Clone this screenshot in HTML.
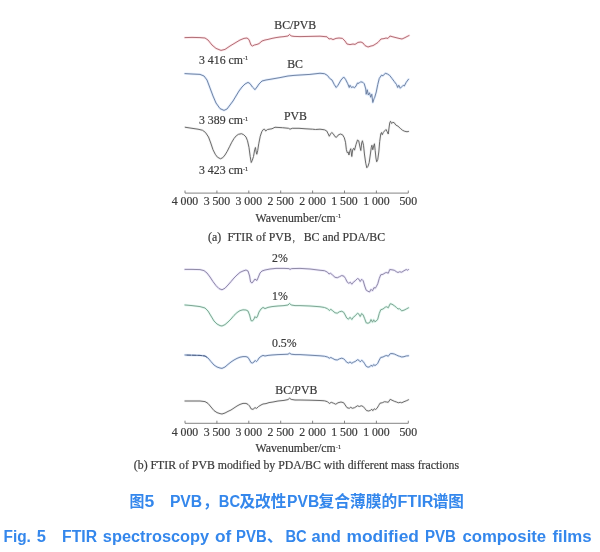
<!DOCTYPE html>
<html lang="zh">
<head>
<meta charset="utf-8">
<title>Fig. 5</title>
<style>
html,body{margin:0;padding:0;background:#fff;}
body{width:600px;height:552px;position:relative;overflow:hidden;}
.t, .t text{font-family:"Liberation Serif","Noto Serif CJK SC",serif;font-size:11.8px;fill:#3a3a3a;stroke:#3a3a3a;stroke-width:0.2px;}
.cap text{font-family:"Liberation Sans","Noto Sans CJK SC",sans-serif;font-weight:bold;font-size:15.6px;fill:#3487ec;}
</style>
</head>
<body>
<svg width="600" height="552" viewBox="0 0 600 552" style="position:absolute;left:0;top:0">
<g fill="none" stroke-linejoin="round" stroke-linecap="round">
<path d="M185,37.6 L192,37.4 L200,37.6 L205,38 L208,40 L212,45 L216,48.4 L221,50.4 L225,49.4 L230,46 L235,43 L240,40 L244,38.4 L247,38 L249,39.6 L251,45 L252.4,46 L254.4,45 L257,44.4 L259,43.6 L262,41 L265,40 L268,39.4 L272,38.4 L276,37.6 L280,37 L284,36.6 L288,36 L289.6,34.4 L291.2,36 L294,36.4 L300,36.6 L310,36.4 L320,36.2 L327,36.8 L329,39 L331,38.6 L333,39.6 L336,38.4 L339,38 L342.4,38.4 L345,41 L347,44 L350,44.6 L353,44 L355,44.4 L358,42.4 L361,42 L363,43 L365,45.6 L368,47 L371,46 L373,45.6 L375,44.4 L378,42.4 L381,39 L384,38.6 L386,38 L388,38.4 L390,36 L392,36.6 L395,37.4 L399,38.4 L402,39 L405,37.6 L408,36 L409,35.6" stroke="#f0506a" stroke-width="2.4" stroke-opacity="0.16"/>
<path d="M185,37.6 L192,37.4 L200,37.6 L205,38 L208,40 L212,45 L216,48.4 L221,50.4 L225,49.4 L230,46 L235,43 L240,40 L244,38.4 L247,38 L249,39.6 L251,45 L252.4,46 L254.4,45 L257,44.4 L259,43.6 L262,41 L265,40 L268,39.4 L272,38.4 L276,37.6 L280,37 L284,36.6 L288,36 L289.6,34.4 L291.2,36 L294,36.4 L300,36.6 L310,36.4 L320,36.2 L327,36.8 L329,39 L331,38.6 L333,39.6 L336,38.4 L339,38 L342.4,38.4 L345,41 L347,44 L350,44.6 L353,44 L355,44.4 L358,42.4 L361,42 L363,43 L365,45.6 L368,47 L371,46 L373,45.6 L375,44.4 L378,42.4 L381,39 L384,38.6 L386,38 L388,38.4 L390,36 L392,36.6 L395,37.4 L399,38.4 L402,39 L405,37.6 L408,36 L409,35.6" stroke="#a8626a" stroke-width="0.9"/>
<path d="M185,73.6 L192,74 L200,74.4 L204,76 L207,80 L210,88 L213,96 L216,103 L220,108.6 L224,110.4 L227,109 L230,105 L233,101 L236,96 L239,91 L242,87 L245,84 L248,82.4 L250,83.6 L252.4,87 L255,89.6 L257,87 L259,84 L262,81 L266,80 L272,79 L280,77.6 L288,76 L294,75.4 L300,75 L310,74.4 L320,73.25 L324.5,73.7 L327.5,75.5 L329.75,78.5 L332,80 L334.25,84.5 L336.2,87.5 L338,85.25 L341,80 L343.7,77 L345.5,79.25 L347.75,83.75 L349.25,87.5 L350,85.25 L351.5,87.5 L353,86.75 L354.5,87.8 L356,86 L357.5,83 L359,83.3 L360.5,81.8 L362.75,82.25 L364.25,83.75 L365.75,89 L366.2,94.25 L367.25,89.75 L368.3,95 L369.5,92.75 L370.7,97.25 L371.75,94.25 L372.8,102.5 L374,98.75 L374.75,97.25 L376.25,92 L377.75,84.5 L379.25,78.5 L381.5,75.2 L383,75.8 L385.25,73.25 L387.5,74 L389.75,75.5 L392,78.5 L394.25,81.5 L396.5,84.5 L397.7,87.5 L398.75,85.25 L400.25,88.25 L401.75,86.75 L403.25,85.25 L404.3,86 L406.25,82.25 L408.5,79.25" stroke="#3a80f0" stroke-width="2.4" stroke-opacity="0.16"/>
<path d="M185,73.6 L192,74 L200,74.4 L204,76 L207,80 L210,88 L213,96 L216,103 L220,108.6 L224,110.4 L227,109 L230,105 L233,101 L236,96 L239,91 L242,87 L245,84 L248,82.4 L250,83.6 L252.4,87 L255,89.6 L257,87 L259,84 L262,81 L266,80 L272,79 L280,77.6 L288,76 L294,75.4 L300,75 L310,74.4 L320,73.25 L324.5,73.7 L327.5,75.5 L329.75,78.5 L332,80 L334.25,84.5 L336.2,87.5 L338,85.25 L341,80 L343.7,77 L345.5,79.25 L347.75,83.75 L349.25,87.5 L350,85.25 L351.5,87.5 L353,86.75 L354.5,87.8 L356,86 L357.5,83 L359,83.3 L360.5,81.8 L362.75,82.25 L364.25,83.75 L365.75,89 L366.2,94.25 L367.25,89.75 L368.3,95 L369.5,92.75 L370.7,97.25 L371.75,94.25 L372.8,102.5 L374,98.75 L374.75,97.25 L376.25,92 L377.75,84.5 L379.25,78.5 L381.5,75.2 L383,75.8 L385.25,73.25 L387.5,74 L389.75,75.5 L392,78.5 L394.25,81.5 L396.5,84.5 L397.7,87.5 L398.75,85.25 L400.25,88.25 L401.75,86.75 L403.25,85.25 L404.3,86 L406.25,82.25 L408.5,79.25" stroke="#66799a" stroke-width="0.9"/>
<path d="M185.25,127.25 L192,128.3 L198,129.2 L202.5,130.25 L205.5,132.5 L208.5,137 L210.75,143 L213,149.75 L215.25,154.25 L217.5,157.25 L220.5,158.75 L222.75,157.7 L225,155 L227.25,151.25 L229.5,146.75 L231.75,142.25 L234,138.5 L236.25,135.8 L238.5,134.3 L241.5,133.7 L243.75,134.75 L246,137 L247.5,140.75 L249,147.5 L250.2,156.5 L251.25,162.5 L252.3,160.25 L253.5,156.5 L254.7,149.75 L255.45,147.5 L256.2,152 L256.8,154.25 L257.7,150.5 L258.75,143.75 L260.25,136.25 L261.75,131.75 L263.25,129.5 L264.5,129.2 L265.7,131 L267.5,129.5 L272,128.75 L275,127.25 L282.5,127.7 L288.5,128.3 L290,129.2 L292.25,128.3 L299,128.3 L305,128.75 L312.5,129.2 L315.5,129.5 L320,129.2 L324.5,129.8 L326.75,131 L328.25,134 L329.3,136.25 L330.5,134 L331.7,132.5 L333.2,133.7 L335,136.7 L336.5,137.3 L338,135.2 L340.25,134 L342.5,134.75 L344.3,137.75 L345.5,142.25 L346.4,149.75 L347.3,152.75 L348.2,152 L348.95,155 L350,150.5 L350.75,148.7 L351.8,156.5 L352.7,149.75 L353.75,148.25 L354.5,150.2 L356,144.5 L357.5,140 L358.7,140.75 L359.75,146 L360.8,150.5 L361.7,143 L362.45,140.75 L363.5,145.25 L364.55,155 L365.75,163.25 L366.8,167.75 L368,166.25 L369.2,162.5 L370.25,155 L371.3,147.5 L371.9,145.25 L372.8,149.75 L373.7,146 L374.45,143.75 L375.2,150.5 L375.95,158 L376.7,161.75 L377.75,159.5 L378.8,152 L379.7,141.5 L380.75,134 L381.5,132.5 L382.25,134.75 L383.3,132.5 L384.5,131 L386,129.5 L387.2,131.75 L388.25,134 L389,128 L389.75,122.75 L390.5,121.25 L391.7,123.5 L392.75,122.3 L394.25,122.75 L395.75,125 L398,126.2 L400.25,128.3 L402.5,130.25 L404.75,131.3 L407,131.75 L408.5,131.45" stroke="#999999" stroke-width="2.4" stroke-opacity="0.16"/>
<path d="M185.25,127.25 L192,128.3 L198,129.2 L202.5,130.25 L205.5,132.5 L208.5,137 L210.75,143 L213,149.75 L215.25,154.25 L217.5,157.25 L220.5,158.75 L222.75,157.7 L225,155 L227.25,151.25 L229.5,146.75 L231.75,142.25 L234,138.5 L236.25,135.8 L238.5,134.3 L241.5,133.7 L243.75,134.75 L246,137 L247.5,140.75 L249,147.5 L250.2,156.5 L251.25,162.5 L252.3,160.25 L253.5,156.5 L254.7,149.75 L255.45,147.5 L256.2,152 L256.8,154.25 L257.7,150.5 L258.75,143.75 L260.25,136.25 L261.75,131.75 L263.25,129.5 L264.5,129.2 L265.7,131 L267.5,129.5 L272,128.75 L275,127.25 L282.5,127.7 L288.5,128.3 L290,129.2 L292.25,128.3 L299,128.3 L305,128.75 L312.5,129.2 L315.5,129.5 L320,129.2 L324.5,129.8 L326.75,131 L328.25,134 L329.3,136.25 L330.5,134 L331.7,132.5 L333.2,133.7 L335,136.7 L336.5,137.3 L338,135.2 L340.25,134 L342.5,134.75 L344.3,137.75 L345.5,142.25 L346.4,149.75 L347.3,152.75 L348.2,152 L348.95,155 L350,150.5 L350.75,148.7 L351.8,156.5 L352.7,149.75 L353.75,148.25 L354.5,150.2 L356,144.5 L357.5,140 L358.7,140.75 L359.75,146 L360.8,150.5 L361.7,143 L362.45,140.75 L363.5,145.25 L364.55,155 L365.75,163.25 L366.8,167.75 L368,166.25 L369.2,162.5 L370.25,155 L371.3,147.5 L371.9,145.25 L372.8,149.75 L373.7,146 L374.45,143.75 L375.2,150.5 L375.95,158 L376.7,161.75 L377.75,159.5 L378.8,152 L379.7,141.5 L380.75,134 L381.5,132.5 L382.25,134.75 L383.3,132.5 L384.5,131 L386,129.5 L387.2,131.75 L388.25,134 L389,128 L389.75,122.75 L390.5,121.25 L391.7,123.5 L392.75,122.3 L394.25,122.75 L395.75,125 L398,126.2 L400.25,128.3 L402.5,130.25 L404.75,131.3 L407,131.75 L408.5,131.45" stroke="#5c5c5c" stroke-width="0.9"/>
<path d="M185,269.4 L192,269.4 L200,269.6 L204,270.6 L207,273 L210,277 L213,281.6 L216,285.6 L219,288.6 L222,289.8 L225,288.2 L228,285 L231,281.6 L234,278 L237,275 L240,272.4 L243,271 L246,270 L248,271 L249.6,276 L250.6,282 L252,283 L253.6,281 L255,279 L256,280 L257,280.4 L258.4,277 L260,273 L262,271 L265,270 L270,269 L276,268.4 L284,268.4 L289,268.6 L290,269.4 L291.6,268.6 L300,268.4 L310,269 L320,270.25 L324.5,270.7 L327.5,272.2 L329,274 L330.5,273.25 L332.75,275.2 L335,277.3 L337.25,277.75 L339.5,276.7 L341.75,275.5 L344,276.25 L345.5,278.5 L347,281.8 L348.8,283.3 L350.3,282.25 L351.8,284.2 L353.3,282.25 L355.25,280.75 L357.5,278.5 L359,279.25 L360.2,281.5 L361.7,279.25 L363.2,280.75 L364.7,286 L366.2,290.2 L368,291.25 L369.5,292 L371,289.3 L372.5,290.8 L374,287.5 L375.2,288.25 L376.25,286.75 L377.75,283.75 L379.25,278.5 L380.75,274.75 L383,274.3 L385.25,272.8 L386.75,272.5 L388.25,273.25 L389.75,269.5 L392,269.8 L394.25,270.25 L396.5,271.75 L398,272.5 L399.5,271.75 L401.75,272.2 L404,270.7 L406.25,269.5 L407.75,270.25 L408.5,269.5" stroke="#8a68e8" stroke-width="2.4" stroke-opacity="0.16"/>
<path d="M185,269.4 L192,269.4 L200,269.6 L204,270.6 L207,273 L210,277 L213,281.6 L216,285.6 L219,288.6 L222,289.8 L225,288.2 L228,285 L231,281.6 L234,278 L237,275 L240,272.4 L243,271 L246,270 L248,271 L249.6,276 L250.6,282 L252,283 L253.6,281 L255,279 L256,280 L257,280.4 L258.4,277 L260,273 L262,271 L265,270 L270,269 L276,268.4 L284,268.4 L289,268.6 L290,269.4 L291.6,268.6 L300,268.4 L310,269 L320,270.25 L324.5,270.7 L327.5,272.2 L329,274 L330.5,273.25 L332.75,275.2 L335,277.3 L337.25,277.75 L339.5,276.7 L341.75,275.5 L344,276.25 L345.5,278.5 L347,281.8 L348.8,283.3 L350.3,282.25 L351.8,284.2 L353.3,282.25 L355.25,280.75 L357.5,278.5 L359,279.25 L360.2,281.5 L361.7,279.25 L363.2,280.75 L364.7,286 L366.2,290.2 L368,291.25 L369.5,292 L371,289.3 L372.5,290.8 L374,287.5 L375.2,288.25 L376.25,286.75 L377.75,283.75 L379.25,278.5 L380.75,274.75 L383,274.3 L385.25,272.8 L386.75,272.5 L388.25,273.25 L389.75,269.5 L392,269.8 L394.25,270.25 L396.5,271.75 L398,272.5 L399.5,271.75 L401.75,272.2 L404,270.7 L406.25,269.5 L407.75,270.25 L408.5,269.5" stroke="#85809c" stroke-width="0.9"/>
<path d="M185,305 L192,305.6 L200,306.6 L205,308 L208,311 L211,316 L214,321 L217,324 L220,325.6 L222,326 L225,324.6 L228,322 L231,319 L234,315.4 L237,312.6 L240,310.6 L243,309.8 L246,310 L248,311 L249.6,315 L251,320.6 L252.4,321 L254,319 L255,316.6 L256.4,318 L257.6,316 L259,312 L261,309 L263,307.4 L265,308.6 L268,307.4 L272,306.6 L278,306 L284,305.6 L288,305 L289.6,303.4 L291.2,305 L295,305.6 L300,305.6 L310,306 L320,306.75 L324.5,307.5 L327.5,308.7 L329.3,310.5 L330.8,309.3 L332.75,310.8 L335,312.75 L337.25,313.2 L339.5,311.7 L341.75,311.25 L343.7,312.3 L345.2,315 L346.7,318 L348.5,319.2 L350,317.25 L351.8,319.5 L353.3,317.25 L355.25,315.75 L357.5,313.2 L359,314.25 L360.2,316.5 L361.7,313.5 L363.2,315 L364.7,318.75 L366.2,322.8 L368,323.25 L369.8,322.5 L371,319.5 L372.5,322.2 L373.7,319.8 L374.9,321.75 L376.25,321 L377.75,319.2 L379.25,313.5 L380.75,309.75 L383,309 L385.25,307.2 L386.75,306.75 L388.25,307.8 L390.2,303.75 L392,304.2 L394.25,305.7 L396.5,307.5 L398,309 L399.5,308.7 L401.75,310.8 L404,310.2 L406.25,309 L408.5,307.8" stroke="#30d090" stroke-width="2.4" stroke-opacity="0.16"/>
<path d="M185,305 L192,305.6 L200,306.6 L205,308 L208,311 L211,316 L214,321 L217,324 L220,325.6 L222,326 L225,324.6 L228,322 L231,319 L234,315.4 L237,312.6 L240,310.6 L243,309.8 L246,310 L248,311 L249.6,315 L251,320.6 L252.4,321 L254,319 L255,316.6 L256.4,318 L257.6,316 L259,312 L261,309 L263,307.4 L265,308.6 L268,307.4 L272,306.6 L278,306 L284,305.6 L288,305 L289.6,303.4 L291.2,305 L295,305.6 L300,305.6 L310,306 L320,306.75 L324.5,307.5 L327.5,308.7 L329.3,310.5 L330.8,309.3 L332.75,310.8 L335,312.75 L337.25,313.2 L339.5,311.7 L341.75,311.25 L343.7,312.3 L345.2,315 L346.7,318 L348.5,319.2 L350,317.25 L351.8,319.5 L353.3,317.25 L355.25,315.75 L357.5,313.2 L359,314.25 L360.2,316.5 L361.7,313.5 L363.2,315 L364.7,318.75 L366.2,322.8 L368,323.25 L369.8,322.5 L371,319.5 L372.5,322.2 L373.7,319.8 L374.9,321.75 L376.25,321 L377.75,319.2 L379.25,313.5 L380.75,309.75 L383,309 L385.25,307.2 L386.75,306.75 L388.25,307.8 L390.2,303.75 L392,304.2 L394.25,305.7 L396.5,307.5 L398,309 L399.5,308.7 L401.75,310.8 L404,310.2 L406.25,309 L408.5,307.8" stroke="#769c8a" stroke-width="0.9"/>
<path d="M185,355 L192,355.2 L200,355.4 L205,356 L208,358 L211,361.6 L214,365 L217,367 L220,368 L222,368.4 L225,367 L228,364.4 L231,362 L234,360 L237,358.4 L240,357.2 L243,356.6 L246,356.6 L248,357.4 L249.6,360 L251,362.6 L252.4,363 L254,362 L255.2,360.4 L256.4,361.6 L257.6,360.4 L259,358 L261,356.4 L263,355.4 L265,356 L268,355.4 L272,355 L278,354.6 L284,354.4 L288,354.2 L289.6,353.2 L291.2,354.2 L295,354.6 L300,354.6 L310,355.2 L320,355.8 L324.5,356.25 L327.5,357 L329.3,358.2 L330.8,357.45 L332.75,358.5 L335,359.7 L337.25,360 L339.5,358.8 L341.75,358.2 L343.7,358.8 L345.2,360.3 L346.7,362.25 L348.5,363 L350,361.95 L351.8,363.3 L353.3,362.25 L355.25,361.5 L357.5,359.7 L359,360.3 L360.2,361.8 L361.7,360.3 L363.2,361.5 L364.7,363.75 L366.2,366.3 L368,367.2 L369.8,366.75 L371,365.25 L372.5,366.3 L373.7,364.5 L374.9,365.55 L376.25,364.8 L377.75,363.3 L379.25,360 L380.75,357.45 L383,357 L385.25,355.8 L386.75,355.5 L388.25,356.25 L390.2,353.7 L392,353.55 L394.25,354 L396.5,355.05 L398,355.8 L399.5,356.25 L401.75,357 L404,356.7 L406.25,355.95 L408.5,355.8" stroke="#3a80f0" stroke-width="2.4" stroke-opacity="0.16"/>
<path d="M185,355 L192,355.2 L200,355.4 L205,356 L208,358 L211,361.6 L214,365 L217,367 L220,368 L222,368.4 L225,367 L228,364.4 L231,362 L234,360 L237,358.4 L240,357.2 L243,356.6 L246,356.6 L248,357.4 L249.6,360 L251,362.6 L252.4,363 L254,362 L255.2,360.4 L256.4,361.6 L257.6,360.4 L259,358 L261,356.4 L263,355.4 L265,356 L268,355.4 L272,355 L278,354.6 L284,354.4 L288,354.2 L289.6,353.2 L291.2,354.2 L295,354.6 L300,354.6 L310,355.2 L320,355.8 L324.5,356.25 L327.5,357 L329.3,358.2 L330.8,357.45 L332.75,358.5 L335,359.7 L337.25,360 L339.5,358.8 L341.75,358.2 L343.7,358.8 L345.2,360.3 L346.7,362.25 L348.5,363 L350,361.95 L351.8,363.3 L353.3,362.25 L355.25,361.5 L357.5,359.7 L359,360.3 L360.2,361.8 L361.7,360.3 L363.2,361.5 L364.7,363.75 L366.2,366.3 L368,367.2 L369.8,366.75 L371,365.25 L372.5,366.3 L373.7,364.5 L374.9,365.55 L376.25,364.8 L377.75,363.3 L379.25,360 L380.75,357.45 L383,357 L385.25,355.8 L386.75,355.5 L388.25,356.25 L390.2,353.7 L392,353.55 L394.25,354 L396.5,355.05 L398,355.8 L399.5,356.25 L401.75,357 L404,356.7 L406.25,355.95 L408.5,355.8" stroke="#66799a" stroke-width="0.9"/>
<path d="M185,401 L192,401 L200,401 L205,401.6 L208,403.4 L211,407 L214,410.6 L217,412.6 L220,413.6 L222,414 L225,413 L228,411.4 L231,410 L234,408 L237,406 L240,404.4 L243,403.4 L246,403.4 L248,404.4 L249.6,406 L251,408.8 L253,409.4 L255,407.6 L256.6,408.4 L258.4,406.6 L261,405 L263,404 L266,403.6 L269,402.6 L273,402 L278,401 L284,400.4 L288,399.6 L289.6,398.2 L291.2,399.4 L295,400 L300,400 L310,400.2 L320,400.5 L324.5,400.8 L327.5,401.7 L329.3,403.5 L331.25,402.3 L333.5,403.2 L335.75,404.25 L338,402.75 L341,402 L343.7,402.75 L345.2,405 L347,407.7 L349.25,408.3 L350.75,407.25 L352.25,408.3 L354.5,407.7 L357.5,405.75 L359.3,406.5 L361.25,405.75 L363.2,406.5 L364.7,408.3 L366.5,410.55 L368.75,411 L370.7,410.25 L371.75,409.2 L372.8,410.7 L374.3,408.75 L375.5,409.5 L377,408.3 L378.5,405.75 L380,403.2 L382.25,402.75 L384.5,401.7 L386.75,402 L388.25,402.3 L390.2,399.3 L392,400.2 L394.25,401.25 L396.5,402 L398.3,402.75 L400.25,402.3 L401.75,402.75 L404,401.7 L406.25,400.8 L408.5,399.75" stroke="#999999" stroke-width="2.4" stroke-opacity="0.16"/>
<path d="M185,401 L192,401 L200,401 L205,401.6 L208,403.4 L211,407 L214,410.6 L217,412.6 L220,413.6 L222,414 L225,413 L228,411.4 L231,410 L234,408 L237,406 L240,404.4 L243,403.4 L246,403.4 L248,404.4 L249.6,406 L251,408.8 L253,409.4 L255,407.6 L256.6,408.4 L258.4,406.6 L261,405 L263,404 L266,403.6 L269,402.6 L273,402 L278,401 L284,400.4 L288,399.6 L289.6,398.2 L291.2,399.4 L295,400 L300,400 L310,400.2 L320,400.5 L324.5,400.8 L327.5,401.7 L329.3,403.5 L331.25,402.3 L333.5,403.2 L335.75,404.25 L338,402.75 L341,402 L343.7,402.75 L345.2,405 L347,407.7 L349.25,408.3 L350.75,407.25 L352.25,408.3 L354.5,407.7 L357.5,405.75 L359.3,406.5 L361.25,405.75 L363.2,406.5 L364.7,408.3 L366.5,410.55 L368.75,411 L370.7,410.25 L371.75,409.2 L372.8,410.7 L374.3,408.75 L375.5,409.5 L377,408.3 L378.5,405.75 L380,403.2 L382.25,402.75 L384.5,401.7 L386.75,402 L388.25,402.3 L390.2,399.3 L392,400.2 L394.25,401.25 L396.5,402 L398.3,402.75 L400.25,402.3 L401.75,402.75 L404,401.7 L406.25,400.8 L408.5,399.75" stroke="#5c5c5c" stroke-width="0.9"/>
<path d="M187,355.1 L200,355.4 L205,356 L207.5,357.6" stroke="#3c4f7a" stroke-width="0.9" stroke-dasharray="3.5 2" stroke-opacity="0.8"/>
</g>
<path d="M185.00,190.5 V193.1 H408.30 V190.5 M216.90,193.1 v-2.6 M248.80,193.1 v-2.6 M280.70,193.1 v-2.6 M312.60,193.1 v-2.6 M344.50,193.1 v-2.6 M376.40,193.1 v-2.6" fill="none" stroke="#666" stroke-width="0.8"/>
<text x="185.00" y="205.4" text-anchor="middle" class="t">4 000</text>
<text x="216.90" y="205.4" text-anchor="middle" class="t">3 500</text>
<text x="248.80" y="205.4" text-anchor="middle" class="t">3 000</text>
<text x="280.70" y="205.4" text-anchor="middle" class="t">2 500</text>
<text x="312.60" y="205.4" text-anchor="middle" class="t">2 000</text>
<text x="344.50" y="205.4" text-anchor="middle" class="t">1 500</text>
<text x="376.40" y="205.4" text-anchor="middle" class="t">1 000</text>
<text x="408.30" y="205.4" text-anchor="middle" class="t">500</text>

<path d="M185.00,420.7 V423.3 H408.30 V420.7 M216.90,423.3 v-2.6 M248.80,423.3 v-2.6 M280.70,423.3 v-2.6 M312.60,423.3 v-2.6 M344.50,423.3 v-2.6 M376.40,423.3 v-2.6" fill="none" stroke="#666" stroke-width="0.8"/>
<text x="185.00" y="435.8" text-anchor="middle" class="t">4 000</text>
<text x="216.90" y="435.8" text-anchor="middle" class="t">3 500</text>
<text x="248.80" y="435.8" text-anchor="middle" class="t">3 000</text>
<text x="280.70" y="435.8" text-anchor="middle" class="t">2 500</text>
<text x="312.60" y="435.8" text-anchor="middle" class="t">2 000</text>
<text x="344.50" y="435.8" text-anchor="middle" class="t">1 500</text>
<text x="376.40" y="435.8" text-anchor="middle" class="t">1 000</text>
<text x="408.30" y="435.8" text-anchor="middle" class="t">500</text>

<g class="t">
<text x="295.25" y="29" text-anchor="middle">BC/PVB</text>
<text x="199" y="63.5">3 416 cm<tspan dy="-3.2" font-size="6.3">-1</tspan></text>
<text x="295" y="68" text-anchor="middle">BC</text>
<text x="199" y="123.75">3 389 cm<tspan dy="-3.2" font-size="6.3">-1</tspan></text>
<text x="295.4" y="119.5" text-anchor="middle">PVB</text>
<text x="199" y="173.75">3 423 cm<tspan dy="-3.2" font-size="6.3">-1</tspan></text>
<text x="255.5" y="221.5">Wavenumber/cm<tspan dy="-3.2" font-size="6.3">-1</tspan></text>
<text y="240.8"><tspan x="208">(a)</tspan> <tspan x="227.5">FTIR of PVB</tspan><tspan x="292.3" font-size="9">，</tspan><tspan x="303.75">BC and PDA/BC</tspan></text>
<text x="272" y="261.5">2%</text>
<text x="272" y="299.5">1%</text>
<text x="272" y="347.3">0.5%</text>
<text x="296.3" y="394" text-anchor="middle">BC/PVB</text>
<text x="255.5" y="452.2">Wavenumber/cm<tspan dy="-3.2" font-size="6.3">-1</tspan></text>
<text x="133.8" y="469" textLength="325.2" lengthAdjust="spacing">(b) FTIR of PVB modified by PDA/BC with different mass fractions</text>
</g>
<g class="cap">
<text y="506.7"><tspan x="129.40" textLength="14.90" lengthAdjust="spacingAndGlyphs">图</tspan><tspan x="144.40" textLength="9.80" lengthAdjust="spacingAndGlyphs">5</tspan>   <tspan x="169.90" textLength="32.30" lengthAdjust="spacingAndGlyphs">PVB</tspan><tspan x="203.00">，</tspan><tspan x="218.80" textLength="21.30" lengthAdjust="spacingAndGlyphs">BC</tspan><tspan x="239.40" textLength="47.00" lengthAdjust="spacingAndGlyphs">及改性</tspan><tspan x="287.10" textLength="32.10" lengthAdjust="spacingAndGlyphs">PVB</tspan><tspan x="318.60" textLength="78.70" lengthAdjust="spacingAndGlyphs">复合薄膜的</tspan><tspan x="397.40" textLength="36.00" lengthAdjust="spacingAndGlyphs">FTIR</tspan><tspan x="432.70" textLength="31.20" lengthAdjust="spacingAndGlyphs">谱图</tspan></text>
<text y="541.6"><tspan x="3.50" textLength="27.40" lengthAdjust="spacingAndGlyphs">Fig.</tspan> <tspan x="36.70" textLength="9.20" lengthAdjust="spacingAndGlyphs">5</tspan>   <tspan x="62.10" textLength="35.05" lengthAdjust="spacingAndGlyphs">FTIR</tspan> <tspan x="102.85" textLength="106.35" lengthAdjust="spacingAndGlyphs">spectroscopy</tspan> <tspan x="214.90" textLength="16.30" lengthAdjust="spacingAndGlyphs">of</tspan> <tspan x="236.10" textLength="30.60" lengthAdjust="spacingAndGlyphs">PVB</tspan><tspan x="267.10">、</tspan><tspan x="285.40" textLength="21.30" lengthAdjust="spacingAndGlyphs">BC</tspan> <tspan x="311.60" textLength="29.30" lengthAdjust="spacingAndGlyphs">and</tspan> <tspan x="346.60" textLength="72.30" lengthAdjust="spacingAndGlyphs">modified</tspan> <tspan x="424.90" textLength="31.00" lengthAdjust="spacingAndGlyphs">PVB</tspan> <tspan x="462.40" textLength="83.80" lengthAdjust="spacingAndGlyphs">composite</tspan> <tspan x="552.40" textLength="39.30" lengthAdjust="spacingAndGlyphs">films</tspan></text>
</g>
</svg>
</body>
</html>
